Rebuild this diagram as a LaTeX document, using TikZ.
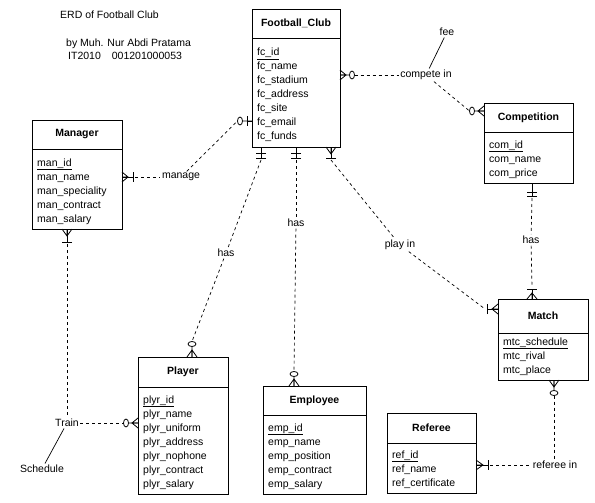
\documentclass[tikz,border=0pt]{standalone}
\usepackage{fontspec}
\setmainfont{Liberation Sans}
\usetikzlibrary{calc}
\tikzset{
  ent/.style={draw, line width=0.8pt, inner sep=0pt, outer sep=0pt},
  ttl/.style={font=\fontsize{10.5}{12}\selectfont\bfseries, inner sep=0pt},
  attr/.style={font=\fontsize{10.5}{12}\selectfont, inner sep=0pt, anchor=base west},
  lbl/.style={font=\fontsize{10.5}{12}\selectfont, inner sep=1.5pt},
  hdr/.style={font=\fontsize{10.5}{12}\selectfont, inner sep=0pt, anchor=base west},
  conn/.style={dash pattern=on 3pt off 3pt, line width=0.7pt},
  solidconn/.style={line width=0.7pt},
  sym/.style={line width=0.8pt},
}
% entity: name, x1, y1, x2, y2, header line y, first baseline, title, attributes
\newcommand\entity[9]{%
  \node[ent, minimum width={#4-#2}, minimum height={#5-#3}] (#1) at ({(#2+#4)/2},{(#3+#5)/2}) {};
  \draw[sym] (#2,#6) -- (#4,#6);
  \node[ttl] (#1t) at ({(#2+#4)/2},{(#3+#6)/2}) {#8};
  \foreach \a [count=\i from 0] in {#9} \node[attr] at ({#2+5},{#7+14*\i}) {\a};
}
% endpoint symbols: point, angle, distance
\newcommand\crowf[3]{\draw[sym, shift={(#1)}, rotate=#2] (0,-5) -- (#3,0) -- (0,5) (0,0) -- (#3,0);}
\newcommand\barf[3]{\draw[sym, shift={(#1)}, rotate=#2] (#3,-5) -- (#3,5) (0,0) -- (#3,0);}
\newcommand\circf[3]{\draw[sym, shift={(#1)}, rotate=#2] (#3,0) ellipse [x radius=2.5, y radius=4] (0,0) -- ({#3-2.5},0);}
\begin{document}
\begin{tikzpicture}[x=1pt, y=-1pt]
\useasboundingbox (0,0) rectangle (595,503);
\fill[white] (0,0) rectangle (595,503);

% heading texts
\node[hdr] (t1) at (60,19) {ERD of Football Club};
\node[hdr] (t2) at (66,47) {by Muh. Nur Abdi Pratama};
\node[hdr] (t3) at (68,60) {IT2010\hspace{11pt}001201000053};

% entities
\entity{fc}{252}{9}{340}{147}{38}{55.5}{Football\_Club}{\underline{fc\_id}, fc\_name, fc\_stadium, fc\_address, fc\_site, fc\_email, fc\_funds}
\entity{com}{484}{103}{573}{183}{132}{148}{Competition}{\underline{com\_id}, com\_name, com\_price}
\entity{man}{32}{120}{122}{229}{149}{166}{Manager}{\underline{man\_id}, man\_name, man\_speciality, man\_contract, man\_salary}
\entity{ply}{138}{357}{228}{494}{387}{403}{Player}{\underline{plyr\_id}, plyr\_name, plyr\_uniform, plyr\_address, plyr\_nophone, plyr\_contract, plyr\_salary}
\entity{emp}{263}{386}{366}{494}{415}{431}{Employee}{\underline{emp\_id}, emp\_name, emp\_position, emp\_contract, emp\_salary}
\entity{mtc}{498}{299}{588}{380}{333}{345}{Match}{\underline{mtc\_schedule}, mtc\_rival, mtc\_place}
\entity{ref}{387}{413}{476}{493}{443}{458}{Referee}{\underline{ref\_id}, ref\_name, ref\_certificate}

% relationship labels
\node[lbl] (compete) at (426,75) {compete in};
\node[lbl] (fee) at (447,32) {fee};
\node[lbl] (manage) at (181,177) {manage};
\node[lbl] (train) at (67,423) {Train};
\node[lbl] (schedule) at (42,469) {Schedule};
\node[lbl] (hasP) at (226,253) {has};
\node[lbl] (hasE) at (296,223) {has};
\node[lbl] (playin) at (400,245) {play in};
\node[lbl] (hasM) at (531,240) {has};
\node[lbl] (refin) at (555,465) {referee in};

% attachment points
\coordinate (fcC) at (fc.east |- 0,75);
\coordinate (comC) at (com.west |- 0,111);
\coordinate (fcM) at (fc.west |- 0,121);
\coordinate (manR) at (man.east |- 0,177);
\coordinate (manB) at (man.south -| 67,0);
\coordinate (plyL) at (ply.west |- 0,423);
\coordinate (plyT) at (ply.north -| 192,0);
\coordinate (empT) at (emp.north -| 294,0);
\coordinate (fcB1) at (fc.south -| 261,0);
\coordinate (fcB2) at (fc.south -| 296,0);
\coordinate (fcB3) at (fc.south -| 331,0);
\coordinate (mtcL) at (mtc.west |- 0,309);
\coordinate (comB) at (com.south -| 532,0);
\coordinate (mtcT) at (mtc.north -| 532,0);
\coordinate (mtcB) at (mtc.south -| 554,0);
\coordinate (refR) at (ref.east |- 0,465);

% symbols
\crowf{fcC}{0}{6} \circf{fcC}{0}{12}
\crowf{comC}{180}{6} \circf{comC}{180}{12}
\barf{fcM}{180}{5} \circf{fcM}{180}{12}
\crowf{manR}{0}{6} \barf{manR}{0}{11}
\crowf{manB}{-90}{7} \barf{manB}{-90}{13}
\crowf{plyL}{180}{6} \circf{plyL}{180}{12}
\crowf{plyT}{90}{7} \circf{plyT}{90}{13}
\crowf{empT}{90}{7} \circf{empT}{90}{12}
\barf{fcB1}{-90}{6} \barf{fcB1}{-90}{11}
\barf{fcB2}{-90}{6} \barf{fcB2}{-90}{11}
\crowf{fcB3}{-90}{7} \barf{fcB3}{-90}{11}
\crowf{mtcL}{180}{6} \barf{mtcL}{180}{11}
\barf{comB}{-90}{9} \barf{comB}{-90}{13}
\crowf{mtcT}{90}{6} \barf{mtcT}{90}{10}
\crowf{mtcB}{-90}{7} \circf{mtcB}{-90}{13}
\crowf{refR}{0}{7} \barf{refR}{0}{12}

% connectors
\draw[conn] ($(fcC)+(14.5,0)$) -- (compete);
\draw[conn] (compete) -- ($(comC)+(-14.5,0)$);
\draw[solidconn] (fee) -- (compete);
\draw[conn] ($(manR)+(13,0)$) -- (manage);
\draw[conn] (manage) -- ($(fcM)+(-14.5,0)$);
\draw[conn] ($(manB)+(0,15)$) -- (train);
\draw[conn] (train) -- ($(plyL)+(-14.5,0)$);
\draw[solidconn] (schedule) -- (train);
\draw[conn] ($(fcB1)+(0,13)$) -- (hasP);
\draw[conn] (hasP) -- ($(plyT)+(0,-15.5)$);
\draw[conn] ($(fcB2)+(0,13)$) -- (hasE);
\draw[conn] (hasE) -- ($(empT)+(0,-14.5)$);
\draw[conn] ($(fcB3)+(0,13)$) -- (playin);
\draw[conn] (playin) -- ($(mtcL)+(-13,0)$);
\draw[conn] ($(comB)+(0,15)$) -- (hasM);
\draw[conn] (hasM) -- ($(mtcT)+(0,-12)$);
\draw[conn] ($(mtcB)+(0,15.5)$) -- (mtcB |- refin.north);
\draw[conn] ($(refR)+(14,0)$) -- (refin);
\end{tikzpicture}
\end{document}
